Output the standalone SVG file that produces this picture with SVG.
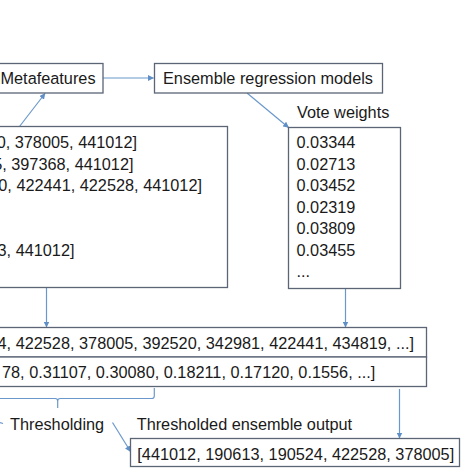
<svg xmlns="http://www.w3.org/2000/svg" width="474" height="474" viewBox="0 0 474 474">
<defs>
<marker id="ah" markerWidth="6" markerHeight="6" refX="5.5" refY="3" orient="auto" markerUnits="userSpaceOnUse">
<path d="M0,0 L6,3 L0,6 Z" fill="#5f8fc6"/>
</marker>
<style>
.box{fill:#ffffff;stroke:#5b6576;stroke-width:1.3}
.t{font-family:"Liberation Sans",Arial,sans-serif;font-size:16.3px;fill:#1a1a1a}
.e{text-anchor:end}
.c{fill:none;stroke:#6b98cc;stroke-width:1.2}
</style>
</defs>
<rect width="474" height="474" fill="#ffffff"/>
<g id="connectors">
<line class="c" x1="103" y1="78" x2="153.5" y2="78" marker-end="url(#ah)"/>
<line class="c" x1="19.5" y1="126.5" x2="45" y2="93.5" marker-end="url(#ah)"/>
<line class="c" x1="247" y1="93" x2="288.5" y2="127.5" marker-end="url(#ah)"/>
<line class="c" x1="46.5" y1="287.5" x2="46.5" y2="327" marker-end="url(#ah)"/>
<line class="c" x1="345.5" y1="288.5" x2="345.5" y2="327" marker-end="url(#ah)"/>
<line class="c" x1="399.5" y1="389" x2="399.5" y2="438" marker-end="url(#ah)"/>
<line class="c" x1="112.5" y1="422.5" x2="130.5" y2="451.5" marker-end="url(#ah)"/>
<line class="c" x1="0" y1="422.5" x2="3" y2="423.5"/>
<path class="c" d="M154.3,388 L154.3,396 Q154.3,398.5 151.8,398.5 L60.2,398.5 Q57.7,398.5 57.7,401 L57.7,408 M57.7,401 Q57.7,398.5 55.2,398.5 L-36,398.5"/>
</g>
<g id="metafeatures">
<rect class="box" x="-20" y="63.5" width="123" height="29.5"/>
<text class="t" x="0.5" y="84">Metafeatures</text>
</g>
<g id="ensemble">
<rect class="box" x="154.5" y="63.5" width="228" height="29.5"/>
<text class="t" x="163" y="84">Ensemble regression models</text>
</g>
<g id="candidates">
<rect class="box" x="-20" y="126.5" width="247.5" height="161"/>
<text class="t e" x="137" y="148.3">0, 378005, 441012]</text>
<text class="t e" x="133.5" y="169.8">5, 397368, 441012]</text>
<text class="t e" x="202" y="191.3">0, 422441, 422528, 441012]</text>
<text class="t e" x="74.5" y="255.8">3, 441012]</text>
</g>
<g id="vote-weights">
<text class="t" x="297" y="118.3">Vote weights</text>
<rect class="box" x="288.5" y="127.5" width="112" height="161"/>
<text class="t" x="296.5" y="148.3">0.03344</text>
<text class="t" x="296.5" y="169.8">0.02713</text>
<text class="t" x="296.5" y="191.3">0.03452</text>
<text class="t" x="296.5" y="212.8">0.02319</text>
<text class="t" x="296.5" y="234.3">0.03809</text>
<text class="t" x="296.5" y="255.8">0.03455</text>
<text class="t" x="296.5" y="277.3">...</text>
</g>
<g id="ensemble-output">
<rect class="box" x="-20" y="327.5" width="446.5" height="29.5"/>
<text class="t e" x="414" y="348.5">4, 422528, 378005, 392520, 342981, 422441, 434819, ...]</text>
<rect class="box" x="-20" y="357" width="446.5" height="29.5"/>
<text class="t" x="2" y="377.5">78, 0.31107, 0.30080, 0.18211, 0.17120, 0.1556, ...]</text>
</g>
<g id="thresholding">
<text class="t" x="10" y="430">Thresholding</text>
</g>
<g id="thresholded-output">
<text class="t" x="136.7" y="430">Thresholded ensemble output</text>
<rect class="box" x="130.5" y="438.5" width="329" height="28"/>
<text class="t" x="137.3" y="460">[441012, 190613, 190524, 422528, 378005]</text>
</g>
</svg>
